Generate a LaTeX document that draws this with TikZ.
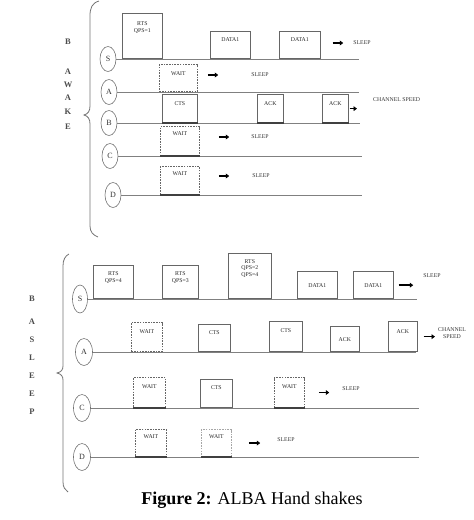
\documentclass[tikz,border=0pt]{standalone}
\usepackage{fontspec}
\setmainfont{Liberation Serif}
\usetikzlibrary{shapes.geometric,arrows.meta}
\tikzset{
  lane/.style={draw=black!50, line width=0.9pt},
  pkt/.style={draw=black!60, line width=0.7pt, anchor=south west, inner sep=0pt,
    align=center, font=\fontsize{5.8}{6.3}\selectfont, text=black!85},
  wpkt/.style={pkt, dash pattern=on 1.6pt off 1.1pt, line width=0.9pt},
  base/.style={draw=black!75, line width=1.4pt},
  stn/.style={ellipse, draw=black!55, line width=0.6pt, minimum width=16pt,
    minimum height=25pt, inner sep=0pt, font=\fontsize{8}{8}\selectfont, text=black!80},
  arr/.style={-{Triangle[length=3.5pt,width=4.8pt]}, line width=1.4pt, draw=black},
  lbl/.style={inner sep=0pt, font=\fontsize{5.8}{6.6}\selectfont, text=black!80, align=center},
  vlet/.style={inner sep=0pt, font=\fontsize{8.5}{9}\selectfont\bfseries, text=black!70},
  brc/.style={draw=black!55, line width=0.8pt},
}
\begin{document}
\begin{tikzpicture}[x=1pt,y=-1pt]
\useasboundingbox (0,0) rectangle (474,520);

% ---------------- top: B AWAKE ----------------
\node[vlet] (tB) at (68,42) {B};
\node[vlet] (tA1) at (68,72) {A};
\node[vlet] (tW) at (68,85) {W};
\node[vlet] (tA2) at (68,98) {A};
\node[vlet] (tK) at (68,112) {K};
\node[vlet] (tE) at (68,127) {E};

\draw[brc] (99,1) .. controls (92,3) and (90,8) .. (90,16) -- (90,106)
  .. controls (90,111) and (88,114) .. (84,115)
  .. controls (88,116) and (90,119) .. (90,124) -- (90,226)
  .. controls (90,232) and (93,235) .. (98,237);

\node[stn] (tS) at (108,59) {S};
\node[stn] (tAs) at (109,92) {A};
\node[stn] (tBs) at (109,123) {B};
\node[stn] (tC) at (110,156) {C};
\node[stn] (tD) at (113,195) {D};

\coordinate (etS) at (359,59);
\coordinate (etA) at (359,92);
\coordinate (etB) at (360,123);
\coordinate (etC) at (362,156);
\coordinate (etD) at (362,195);
\draw[lane] (tS) -- (etS);
\draw[lane] (tAs) -- (etA);
\draw[lane] (tBs) -- (etB);
\draw[lane] (tC) -- (etC);
\draw[lane] (tD) -- (etD);

% S row
\node[pkt, minimum width=40pt, minimum height=45pt] (trts) at (122,59) {RTS\\QPS=1\\[12pt]};
\node[pkt, minimum width=40pt, minimum height=27pt] (td1) at (210,59) {DATA1\\[4pt]};
\node[pkt, minimum width=41pt, minimum height=27pt] (td2) at (279,59) {DATA1\\[4pt]};
\node[lbl] (tsl1) at (362,43) {SLEEP};
\draw[arr, shorten <=12pt, shorten >=10pt] (td2.east |- tsl1) -- (tsl1.west);

% A row
\node[wpkt, minimum width=38pt, minimum height=27pt] (twA) at (159,92) {WAIT\\[3pt]};
\node[lbl] (tsl2) at (260,75) {SLEEP};
\draw[arr, shorten <=10pt, shorten >=33pt] (twA.east |- tsl2) -- (tsl2.west);

% B row
\node[pkt, minimum width=35pt, minimum height=28pt] (tcts) at (162,123) {CTS\\[3pt]};
\draw[base] (tcts.south west) -- (tcts.south east);
\node[pkt, minimum width=26pt, minimum height=28pt] (tack1) at (257,123) {ACK\\[3pt]};
\draw[base] (tack1.south west) -- (tack1.south east);
\node[pkt, minimum width=26pt, minimum height=28pt] (tack2) at (322,123) {ACK\\[3pt]};
\draw[base] (tack2.south west) -- (tack2.south east);
\node[lbl, anchor=west] (tch) at (373,100) {CHANNEL SPEED};
\draw[arr, shorten <=1pt, shorten >=16pt] (tack2.east) -- (tack2.east -| tch.west);

% C row
\node[wpkt, minimum width=39pt, minimum height=29pt] (twC) at (160,156) {WAIT\\[8pt]};
\draw[base] (twC.south west) -- (twC.south east);
\node[lbl] (tsl3) at (260,137) {SLEEP};
\draw[arr, shorten <=19pt, shorten >=22pt] (twC.east |- tsl3) -- (tsl3.west);

% D row
\node[wpkt, minimum width=39pt, minimum height=28pt] (twD) at (160,195) {WAIT\\[8pt]};
\draw[base] (twD.south west) -- (twD.south east);
\node[lbl] (tsl4) at (261,176) {SLEEP};
\draw[arr, shorten <=19pt, shorten >=23pt] (twD.east |- tsl4) -- (tsl4.west);

% ---------------- bottom: B ASLEEP ----------------
\node[vlet] (bB) at (32,299) {B};
\node[vlet] (bA) at (32,322) {A};
\node[vlet] (bS) at (32,340) {S};
\node[vlet] (bL) at (32,358) {L};
\node[vlet] (bE1) at (32,376) {E};
\node[vlet] (bE2) at (32,394) {E};
\node[vlet] (bP) at (32,412) {P};

\draw[brc] (69,254) .. controls (65,256) and (63,260) .. (63,266) -- (63,366)
  .. controls (63,370) and (61,372) .. (57,373)
  .. controls (61,374) and (63,376) .. (63,380) -- (63,482)
  .. controls (63,487) and (65,490) .. (68,492);

\node[stn, minimum width=15pt, minimum height=28pt] (bSs) at (80,299) {S};
\node[stn, minimum width=17pt, minimum height=27pt] (bAs) at (84,352) {A};
\node[stn, minimum width=17pt, minimum height=27pt] (bCs) at (82,408) {C};
\node[stn, minimum width=17pt, minimum height=27pt] (bDs) at (82,457) {D};

\coordinate (ebS) at (417,299);
\coordinate (ebA) at (416,352);
\coordinate (ebC) at (419,408);
\coordinate (ebD) at (419,457);
\draw[lane] (bSs) -- (ebS);
\draw[lane] (bAs) -- (ebA);
\draw[lane] (bCs) -- (ebC);
\draw[lane] (bDs) -- (ebD);

% S row
\node[pkt, minimum width=40pt, minimum height=33pt] (br1) at (93,299) {RTS\\QPS=4\\[4pt]};
\node[pkt, minimum width=36pt, minimum height=33pt] (br2) at (162,299) {RTS\\QPS=3\\[4pt]};
\node[pkt, minimum width=43pt, minimum height=45pt] (br3) at (228,299) {RTS\\QPS=2\\QPS=4\\[10pt]};
\node[pkt, minimum width=40pt, minimum height=27pt] (bd1) at (297,299) {DATA1};
\node[pkt, minimum width=40pt, minimum height=27pt] (bd2) at (353,299) {DATA1};
\node[lbl] (bsl1) at (432,276) {SLEEP};
\draw[arr, shorten <=5pt, shorten >=10pt] (bd2.east) -- (bd2.east -| bsl1.west);

% A row
\node[wpkt, minimum width=31pt, minimum height=29pt] (bwA) at (131,352) {WAIT\\[4pt]};
\node[pkt, minimum width=32pt, minimum height=27pt] (bc1) at (198,352) {CTS\\[4pt]};
\node[pkt, minimum width=33pt, minimum height=30pt] (bc2) at (269,352) {CTS\\[6pt]};
\node[pkt, minimum width=29pt, minimum height=25pt] (bk1) at (330,352) {ACK};
\node[pkt, minimum width=29pt, minimum height=30pt] (bk2) at (388,352) {ACK\\[4pt]};
\node[lbl, anchor=west] (bch) at (438,333) {CHANNEL\\SPEED};
\draw[arr, shorten <=6pt, shorten >=3pt] (bk2.east) -- (bk2.east -| bch.west);

% C row
\node[wpkt, minimum width=32pt, minimum height=30pt] (bwC1) at (133,408) {WAIT\\[6pt]};
\draw[base] (bwC1.south west) -- (bwC1.south east);
\node[pkt, minimum width=32pt, minimum height=28pt] (bcC) at (200,408) {CTS\\[6pt]};
\node[wpkt, minimum width=30pt, minimum height=30pt] (bwC2) at (274,408) {WAIT\\[6pt]};
\draw[base] (bwC2.south west) -- (bwC2.south east);
\node[lbl] (bsl3) at (351,389) {SLEEP};
\draw[arr, shorten <=14pt, shorten >=13pt] (bwC2.east) -- (bwC2.east -| bsl3.west);

% D row
\node[wpkt, minimum width=31pt, minimum height=27pt] (bwD1) at (135,457) {WAIT\\[6pt]};
\draw[base] (bwD1.south west) -- (bwD1.south east);
\node[wpkt, draw=black!35, minimum width=30pt, minimum height=27pt] (bwD2) at (201,457) {WAIT\\[6pt]};
\draw[base] (bwD2.south west) -- (bwD2.south east);
\node[lbl] (bsl4) at (286,440) {SLEEP};
\draw[arr, shorten <=17pt, shorten >=17pt] (bwD2.east) -- (bwD2.east -| bsl4.west);

% caption
\node[inner sep=0pt, font=\fontsize{18}{20}\selectfont] (cap) at (252,500)
  {\textbf{Figure 2:} ALBA Hand shakes};
\end{tikzpicture}
\end{document}
